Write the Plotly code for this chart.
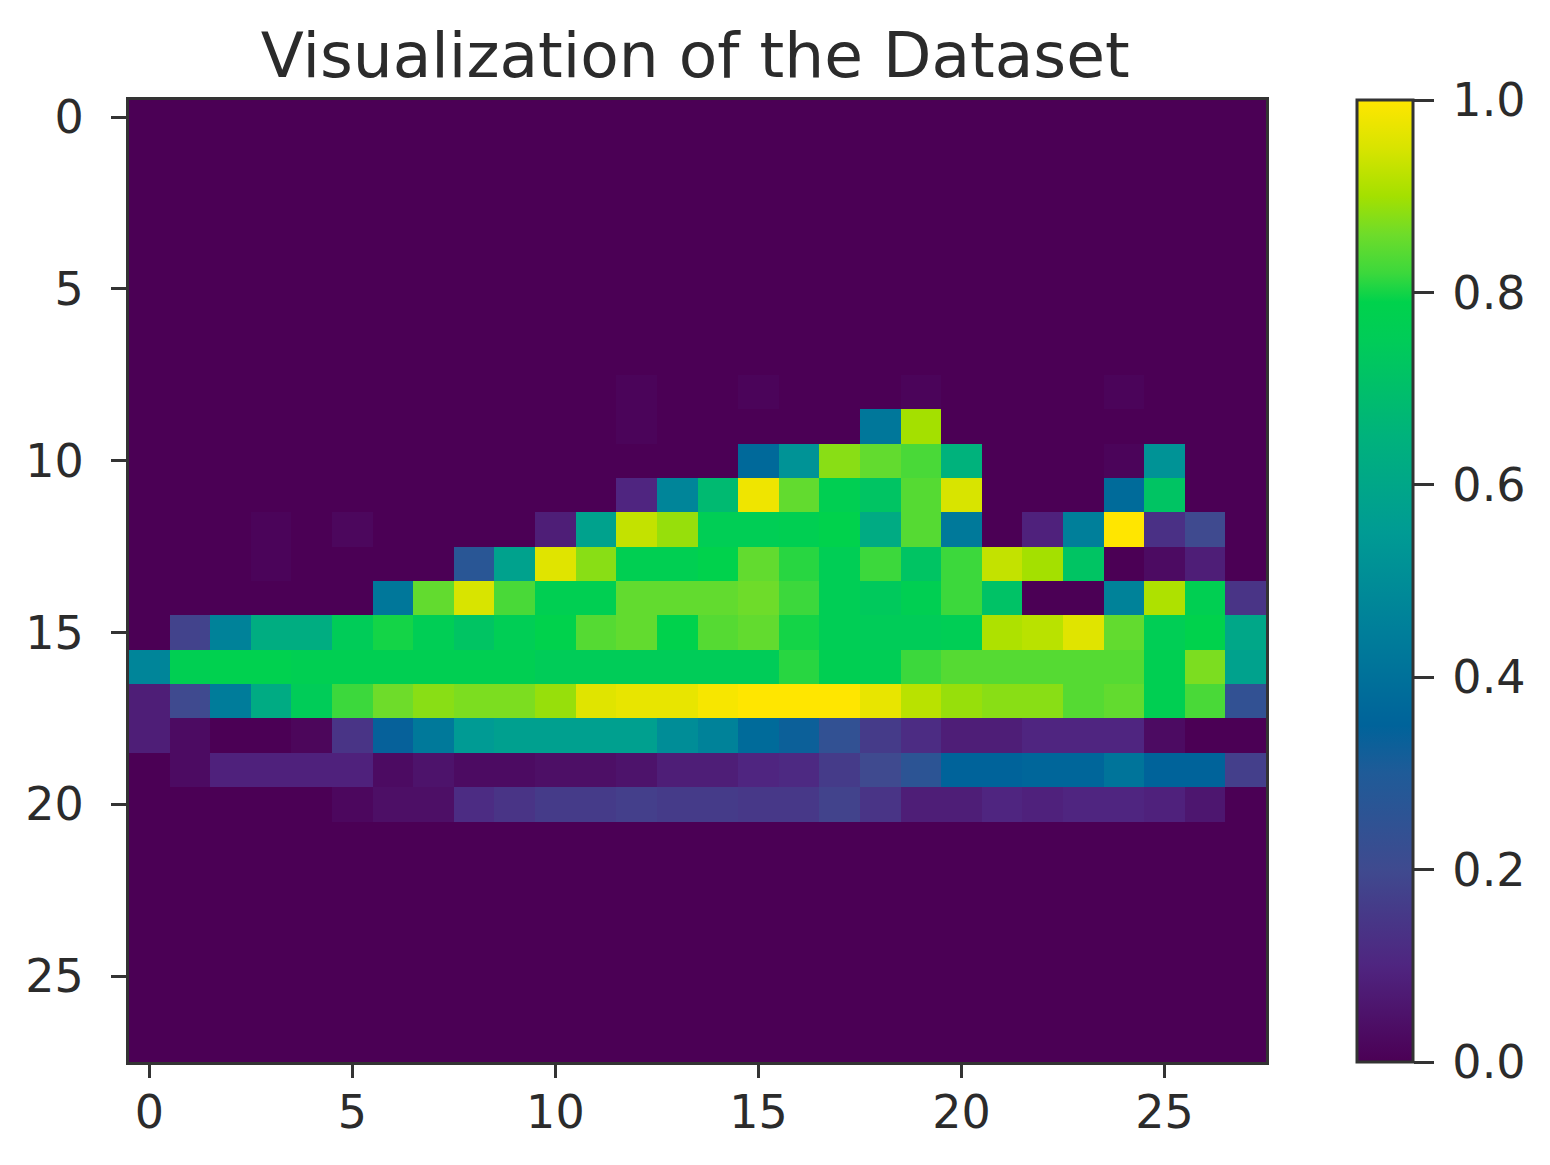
import plotly.graph_objects as go

z_blank = [0.0] * 28
row_08 = [0,0,0,0,0,0,0,0,0,0,0,0,.012,0,0,.012,0,0,0,.012,0,0,0,0,.012,0,0,0]
row_09 = [0,0,0,0,0,0,0,0,0,0,0,0,.012,0,0,0,0,0,.42,.9,0,0,0,0,0,0,0,0]
row_10 = [0,0,0,0,0,0,0,0,0,0,0,0,0,0,0,.37,.52,.88,.85,.83,.65,0,0,0,.012,.52,0,0]
row_11 = [0,0,0,0,0,0,0,0,0,0,0,0,.1,.47,.68,.98,.85,.77,.72,.84,.95,0,0,0,.38,.72,0,0]
row_12 = [0,0,0,.012,0,.018,0,0,0,0,.08,.58,.93,.89,.76,.76,.77,.79,.62,.84,.43,0,.09,.45,1,.13,.2,0]
row_13 = [0,0,0,.012,0,0,0,0,.27,.58,.96,.88,.77,.77,.79,.85,.81,.76,.82,.72,.82,.93,.9,.72,0,.03,.08,0]
row_14 = [0,0,0,0,0,0,.42,.85,.95,.83,.77,.77,.85,.85,.85,.86,.82,.76,.74,.77,.82,.71,0,0,.46,.91,.77,.14]
row_15 = [0,.18,.46,.63,.63,.75,.8,.76,.72,.76,.79,.84,.85,.79,.84,.85,.8,.76,.75,.75,.76,.91,.92,.96,.85,.76,.79,.6]
row_16 = [.47,.77,.78,.78,.77,.77,.77,.77,.77,.77,.75,.75,.75,.75,.75,.75,.81,.77,.76,.82,.84,.84,.84,.84,.84,.77,.87,.58]
row_17 = [.08,.2,.44,.62,.75,.82,.86,.88,.87,.87,.89,.96,.97,.97,.99,1,1,1,.97,.92,.89,.88,.88,.84,.85,.77,.83,.24]
row_18 = [.08,.03,0,0,.015,.14,.34,.43,.55,.57,.57,.57,.57,.5,.46,.38,.33,.24,.16,.12,.08,.08,.1,.1,.1,.03,0,0]
row_19 = [0,.03,.09,.09,.09,.09,.03,.05,.03,.03,.04,.04,.05,.08,.08,.1,.11,.16,.2,.26,.35,.35,.36,.36,.41,.35,.35,.17]
row_20 = [0,0,0,0,0,.02,.04,.04,.12,.14,.16,.16,.17,.16,.16,.15,.15,.18,.14,.08,.08,.1,.09,.1,.1,.09,.06,0]

image_rows = [z_blank] * 8 + [row_08, row_09, row_10, row_11, row_12, row_13, row_14,
                              row_15, row_16, row_17, row_18, row_19, row_20] + [z_blank] * 7

tick_vals = [0, 5, 10, 15, 20, 25]
cbar_ticks = [0.0, 0.2, 0.4, 0.6, 0.8, 1.0]
cbar_labels = ["\u20090.0", "\u20090.2", "\u20090.4", "\u20090.6", "\u20090.8", "\u20091.0"]
title_text = "Visualization of the Dataset"

palette = [
    [0.0, "#4B0055"], [0.1, "#4F2580"], [0.2, "#3F4A8F"], [0.3, "#1F5B98"],
    [0.35, "#00639A"], [0.45, "#007F9A"], [0.55, "#009B94"], [0.65, "#00B27C"],
    [0.75, "#00CC58"], [0.79, "#00D24C"], [0.82, "#3CD83C"], [0.86, "#6EDC2A"],
    [0.9, "#A4E000"], [0.95, "#D8E400"], [1.0, "#FFE600"],
]

TEXT = "#2b2b2b"
FRAME = "#333333"
fig = go.Figure(go.Heatmap(
    z=image_rows,
    colorscale=palette,
    zmin=0, zmax=1,
    colorbar=dict(
        x=1.08, xanchor="left", xpad=0, y=0.5, yanchor="middle", ypad=0,
        len=1, lenmode="fraction", thickness=56, thicknessmode="pixels",
        outlinewidth=3, outlinecolor=FRAME,
        tickmode="array", tickvals=cbar_ticks, ticktext=cbar_labels,
        ticks="outside", ticklen=20, tickwidth=3, tickcolor=FRAME,
        tickfont=dict(family="DejaVu Sans", size=46, color=TEXT),
    ),
))
fig.update_layout(
    width=1550, height=1165,
    margin=dict(l=121, r=292, t=92, b=111),
    paper_bgcolor="white", plot_bgcolor="#4B0055",
    font=dict(family="DejaVu Sans", color=TEXT),
    title=dict(text=title_text, x=0.498, xref="paper", xanchor="center",
               y=1 - 47 / 1165, yref="container", yanchor="middle",
               font=dict(family="DejaVu Sans", size=63, color=TEXT)),
    xaxis=dict(range=[-0.5, 27.5], tickmode="array", tickvals=tick_vals,
               ticks="outside", ticklen=13, tickwidth=3, tickcolor=FRAME,
               ticklabelstandoff=-5,
               tickfont=dict(size=46, color=TEXT), showgrid=False, zeroline=False,
               showline=True, linecolor=FRAME, linewidth=3, mirror=True),
    yaxis=dict(range=[27.5, -0.5], tickmode="array", tickvals=tick_vals,
               ticks="outside", ticklen=15, tickwidth=3, tickcolor=FRAME,
               ticklabelstandoff=18,
               tickfont=dict(size=46, color=TEXT), showgrid=False, zeroline=False,
               showline=True, linecolor=FRAME, linewidth=3, mirror=True),
)
fig.write_html("out.html")
